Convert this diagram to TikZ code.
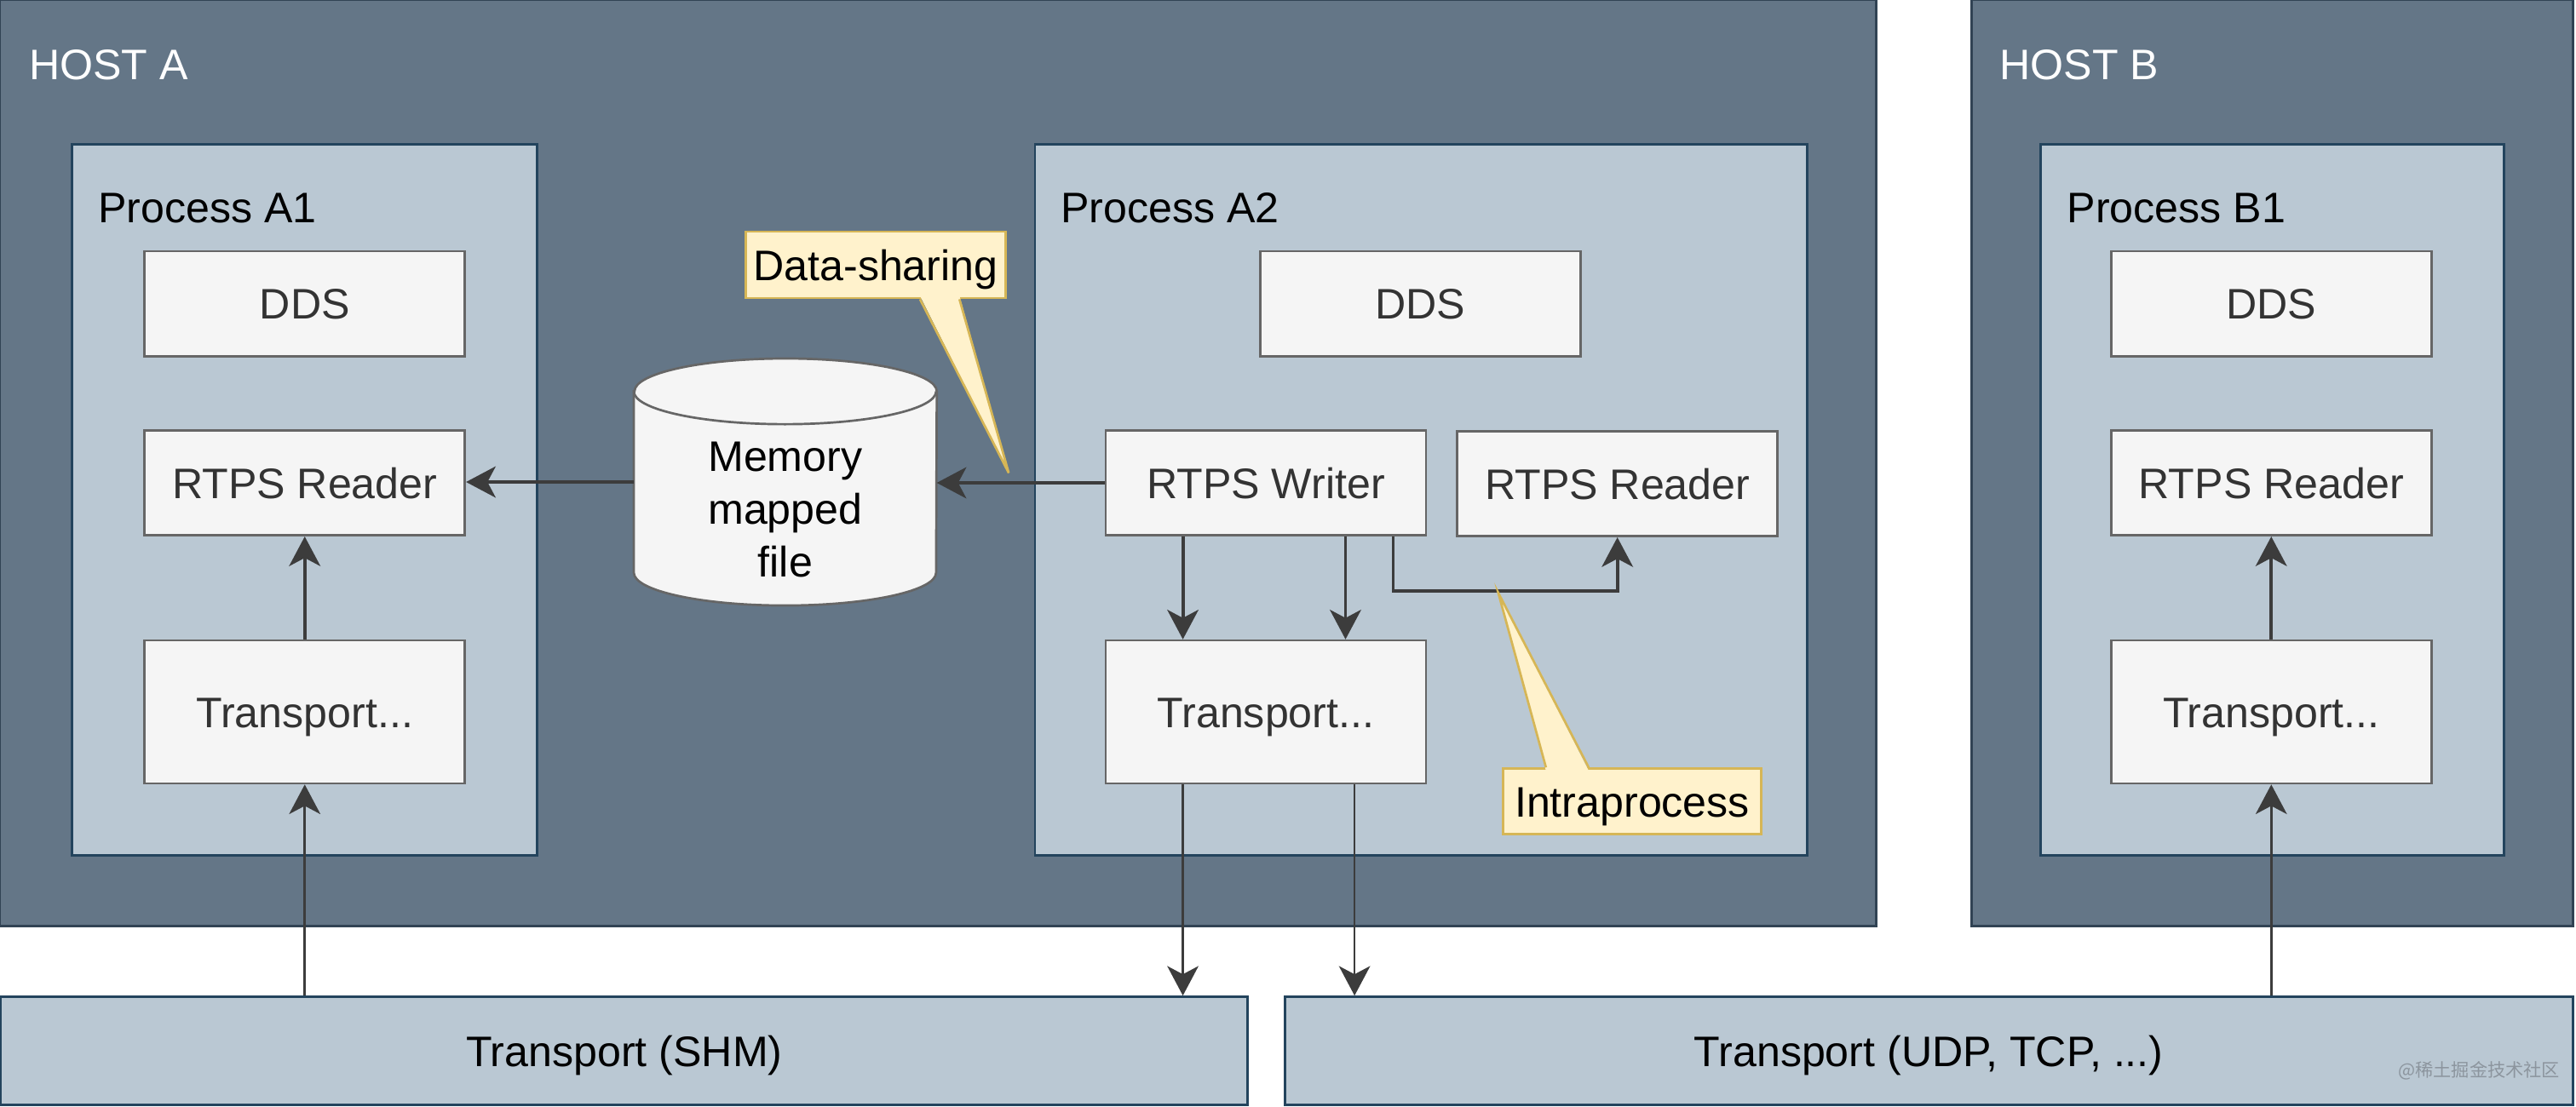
\documentclass[tikz,border=0pt]{standalone}
\usepackage{fontspec}
\setmainfont{Liberation Sans}
\newfontfamily\cjk{Noto Sans CJK SC}
\usetikzlibrary{arrows.meta}
\definecolor{hostfill}{HTML}{647687}
\definecolor{hostline}{HTML}{314354}
\definecolor{procfill}{HTML}{BAC8D3}
\definecolor{procline}{HTML}{23445D}
\definecolor{boxfill}{HTML}{F5F5F5}
\definecolor{boxline}{HTML}{666666}
\definecolor{boxtext}{HTML}{333333}
\definecolor{notefill}{HTML}{FFF2CC}
\definecolor{noteline}{HTML}{D6B656}
\definecolor{wire}{HTML}{3C3C3C}
\definecolor{marktext}{HTML}{8C959E}
\tikzstyle{host}=[draw=hostline,fill=hostfill,line width=1.5pt,inner sep=0pt]
\tikzstyle{proc}=[draw=procline,fill=procfill,line width=1.5pt,inner sep=0pt]
\tikzstyle{strip}=[proc,minimum height=66pt,text height=18.7pt,text depth=0pt]
\tikzstyle{comp}=[draw=boxline,fill=boxfill,text=boxtext,line width=1.4pt,minimum width=195pt,minimum height=64pt,text height=18.7pt,text depth=0pt]
\tikzstyle{hostlabel}=[anchor=base west,inner sep=0pt]
\tikzstyle{note}=[draw=noteline,fill=notefill,line width=1.4pt,inner sep=0pt,text height=18.7pt,text depth=0pt]
\tikzstyle{flow}=[draw=wire,line width=2pt,-{Stealth[length=18pt,width=19pt,inset=5pt]}]
\tikzstyle{link}=[draw=wire,line width=1.4pt,-{Stealth[length=18pt,width=19pt,inset=5pt]}]

\begin{document}
\begin{tikzpicture}[x=1pt,y=-1pt,font=\fontsize{26pt}{32.2pt}\selectfont]
    \useasboundingbox (0,0) rectangle (1568,674);
    % hosts
    \node[host,minimum width=1142pt,minimum height=564pt] (hostA) at (571,282) {};
    \node[host,minimum width=366pt,minimum height=564pt] (hostB) at (1383,282) {};
    \node[hostlabel,text=white] (labA) at (17.5,48.6) {HOST A};
    \node[hostlabel,text=white] (labB) at (1217,48.6) {HOST B};

    % processes
    \node[proc,minimum width=283pt,minimum height=433pt] (procA1) at (185.5,304.5) {};
    \node[proc,minimum width=470pt,minimum height=433pt] (procA2) at (865,304.5) {};
    \node[proc,minimum width=282pt,minimum height=433pt] (procB1) at (1383,304.5) {};
    \node[hostlabel] (labA1) at (59.5,135.4) {Process A1};
    \node[hostlabel] (labA2) at (645.5,135.4) {Process A2};
    \node[hostlabel] (labB1) at (1258,135.4) {Process B1};

    % boxes
    \node[comp] (ddsA1) at (185.5,185) {DDS};
    \node[comp] (rdrA1) at (185.5,294) {RTPS Reader};
    \node[comp,minimum height=87pt] (trA1) at (185.5,433.5) {Transport...};
    \node[comp] (ddsA2) at (864.5,185) {DDS};
    \node[comp] (wrA2) at (770.5,294) {RTPS Writer};
    \node[comp] (rdrA2) at (984.5,294.5) {RTPS Reader};
    \node[comp,minimum height=87pt] (trA2) at (770.5,433.5) {Transport...};
    \node[comp] (ddsB1) at (1382.5,185) {DDS};
    \node[comp] (rdrB1) at (1382.5,294) {RTPS Reader};
    \node[comp,minimum height=87pt] (trB1) at (1382.5,433.5) {Transport...};

    % memory mapped file
    \node[minimum width=184pt,minimum height=150pt,inner sep=0pt] (mmf) at (478,293.5) {};
    \draw[draw=boxline,fill=boxfill,line width=1.4pt] ([yshift=-20pt]mmf.north west) -- ([yshift=20pt]mmf.south west)
        arc[start angle=180,end angle=360,x radius=92pt,y radius=20pt] -- ([yshift=-20pt]mmf.north east)
        arc[start angle=0,end angle=180,x radius=92pt,y radius=20pt] -- cycle;
    \draw[draw=boxline,line width=1.4pt] ([yshift=-20pt]mmf.north west) arc[start angle=180,end angle=360,x radius=92pt,y radius=20pt];
    \node[align=center,inner sep=0pt] (mmflabel) at (478,310.2) {Memory\\mapped\\file};

    % transports
    \node[strip,minimum width=759pt] (shm) at (380,640) {Transport (SHM)};
    \node[strip,minimum width=784pt] (udp) at (1174,640) {Transport (UDP, TCP, ...)};
    \node[font=\cjk\fontsize{11pt}{13pt}\selectfont,text=marktext,inner sep=0pt] (mark) at (1509,651.7) {@稀土掘金技术社区};

    % connectors
    \draw[flow] (mmf.west) -- (mmf.west -| rdrA1.east);
    \draw[flow] (wrA2.west) -- (wrA2.west -| mmf.east);
    \draw[flow] (trA1) -- (rdrA1);
    \draw[link] (shm.north -| trA1.south) -- (trA1.south);
    \draw[flow] ([xshift=-50.5pt]wrA2.south) -- ([xshift=-50.5pt]trA2.north);
    \draw[flow] ([xshift=48.5pt]wrA2.south) -- ([xshift=48.5pt]trA2.north);
    \draw[flow] ([xshift=77.5pt]wrA2.south) -- ++(0,33) -| (rdrA2.south);
    \draw[link] ([xshift=-50.5pt]trA2.south) -- ([xshift=-50.5pt]trA2.south |- shm.north);
    \draw[link] ([xshift=54pt]trA2.south) -- ([xshift=54pt]trA2.south |- udp.north);
    \draw[link] (udp.north -| trB1.south) -- (trB1.south);
    \draw[flow] (trB1) -- (rdrB1);

    % callouts
    \node[note,minimum width=158pt,minimum height=40.5pt] (dsh) at (533,161.25) {Data-sharing};
    \coordinate (dstip) at (614,288);
    \fill[notefill] ([xshift=27pt,yshift=2pt]dsh.south) -- (dstip) -- ([xshift=51pt,yshift=2pt]dsh.south) -- cycle;
    \draw[noteline,line width=1.4pt] ([xshift=27pt]dsh.south) -- (dstip) -- ([xshift=51pt]dsh.south);
    \node[note,minimum width=157pt,minimum height=40pt] (intra) at (993.5,488) {Intraprocess};
    \coordinate (intratip) at (912,361);
    \fill[notefill] ([xshift=-52.5pt,yshift=-2pt]intra.north) -- (intratip) -- ([xshift=-26.5pt,yshift=-2pt]intra.north) -- cycle;
    \draw[noteline,line width=1.4pt] ([xshift=-52.5pt]intra.north) -- (intratip) -- ([xshift=-26.5pt]intra.north);
\end{tikzpicture}
\end{document}
